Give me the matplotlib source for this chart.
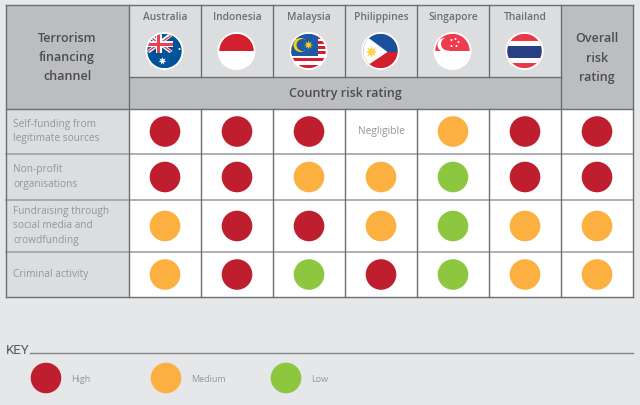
"""
Terrorism financing risk table, drawn in pixel coordinates on one axes
"""
import matplotlib
matplotlib.use('Agg')
import matplotlib.pyplot as plt
import numpy as np
from matplotlib.patches import Circle, Rectangle, Polygon

plt.rcParams['font.family'] = ['Open Sans', 'DejaVu Sans']

countries = ['Australia', 'Indonesia', 'Malaysia', 'Philippines', 'Singapore', 'Thailand']
channels = ['Self-funding from\nlegitimate sources', 'Non-profit\norganisations',
            'Fundraising through\nsocial media and\ncrowdfunding', 'Criminal activity']
self_funding = ['High', 'High', 'High', 'Negligible', 'Medium', 'High', 'High']
non_profit = ['High', 'High', 'Medium', 'Medium', 'Low', 'High', 'High']
fundraising = ['Medium', 'High', 'High', 'Medium', 'Low', 'Medium', 'Medium']
criminal = ['Medium', 'High', 'Low', 'High', 'Low', 'Medium', 'Medium']
levels = ['High', 'Medium', 'Low']

BG = '#e6e7e8'
LIGHT = '#dcddde'
DARK = '#bbbdbf'
LINE = '#6d6e71'
SOFT_LINE = '#a0a2a5'
colors = {'High': '#be1e2d', 'Medium': '#fbb040', 'Low': '#8dc63f'}

col_x = [6, 129, 201, 273, 345, 417, 489, 561, 633]
row_y = [109, 154, 200, 252, 297]
HEAD_TOP, HEAD_MID = 5, 77

fig = plt.figure(figsize=(6.4, 4.05), dpi=100, facecolor=BG)
ax = fig.add_axes([0, 0, 1, 1])
ax.set_xlim(0, 640)
ax.set_ylim(405, 0)
ax.axis('off')


def rect(x0, y0, x1, y1, color):
    ax.add_patch(Rectangle((x0, y0), x1 - x0, y1 - y0, fc=color, ec='none'))


def hline(x0, x1, y, color=LINE, lw=1.0):
    ax.plot([x0, x1], [y, y], color=color, lw=lw, zorder=2)


def vline(x, y0, y1):
    ax.plot([x, x], [y0, y1], color=LINE, lw=1.0, zorder=2)


def star_points(x, y, outer, inner, n):
    ang = np.linspace(-np.pi / 2, 1.5 * np.pi, 2 * n, endpoint=False)
    rad = np.where(np.arange(2 * n) % 2 == 0, outer, inner)
    return np.column_stack([x + rad * np.cos(ang), y + rad * np.sin(ang)])


def draw_flag(name, cx, cy):
    """Round flag with a white rim, everything clipped to the inner disc"""
    ax.add_patch(Circle((cx, cy), 19, fc='white', ec='none', zorder=3))
    r = 17.2
    parts = []

    def box(x0, y0, x1, y1, c):
        parts.append(Rectangle((cx + x0, cy + y0), x1 - x0, y1 - y0, fc=c, ec='none'))

    def poly(pts, c):
        parts.append(Polygon([(cx + a, cy + b) for a, b in pts], fc=c, ec='none'))

    def dot(a, b, rad, c):
        parts.append(Circle((cx + a, cy + b), rad, fc=c, ec='none'))

    if name == 'Australia':
        box(-r, -r, r, r, '#00529b')
        poly([(-18, -15), (-15, -18), (8, 0), (5, 2)], 'white')
        poly([(-18, 0), (5, -18), (8, -15), (-15, 2)], 'white')
        poly([(-17, -15), (-16, -16), (7, 0), (6, 1)], '#e8434f')
        poly([(-17, 0), (6, -16), (7, -15), (-16, 1)], '#e8434f')
        box(-18, -10, 8, -4, 'white')
        box(-9, -18, -3, 2, 'white')
        box(-18, -8.5, 8, -5.5, '#e8434f')
        box(-7.5, -18, -4.5, 2, '#e8434f')
        poly(star_points(-2, 10, 4, 1.8, 7), 'white')
        dot(15, -2, 1, 'white')
    elif name == 'Indonesia':
        box(-r, -r, r, 0, '#d2202f')
        box(-r, 0, r, r, 'white')
    elif name == 'Malaysia':
        box(-r, -r, r, r, 'white')
        for y in (-15, -10, -5, 0, 7, 14):
            box(-r, y, r, y + 2.6, '#d2202f')
        box(-r, -r, 9, 5, '#1c5aa6')
        dot(-8, -6, 7, '#fdd20e')
        dot(-6, -6, 6, '#1c5aa6')
        poly(star_points(0, -6, 4.5, 2, 8), '#fdd20e')
    elif name == 'Philippines':
        box(-r, -r, r, 1, '#1a4f9c')
        box(-r, 1, r, r, '#d2202f')
        poly([(-r - 3, -r - 2), (7, 1), (-r - 3, r + 2)], 'white')
        poly(star_points(-9, 1, 6, 3, 8), '#fdd54f')
    elif name == 'Singapore':
        box(-r, -r, r, 0, '#f03a4f')
        box(-r, 0, r, r, 'white')
        dot(-8, -6, 7, 'white')
        dot(-5, -7, 6.5, '#f03a4f')
        for a, b in [(-1, -11), (3, -12), (6, -9), (4, -5), (-1, -5)]:
            dot(a, b, 1, 'white')
    elif name == 'Thailand':
        box(-r, -r, r, r, '#e8384a')
        box(-r, -10.5, r, 11.5, 'white')
        box(-r, -5.5, r, 6.5, '#283f83')

    for part in parts:
        part.set_zorder(4)
        ax.add_patch(part)
        part.set_clip_path(Circle((cx, cy), r, transform=ax.transData))


# header fills
rect(col_x[0], HEAD_TOP, col_x[1], row_y[0], DARK)
rect(col_x[-2], HEAD_TOP, col_x[-1], row_y[0], DARK)
rect(col_x[1], HEAD_MID, col_x[-2], row_y[0], DARK)
for i, name in enumerate(countries):
    x0, x1 = col_x[i + 1], col_x[i + 2]
    rect(x0, HEAD_TOP, x1, HEAD_MID, LIGHT)
    ax.text((x0 + x1) / 2, 17.5, name, ha='center', va='center', fontsize=7.4,
            fontweight='semibold', color='#6d6e71')
    draw_flag(name, (x0 + x1) / 2 - 0.5, 51)

ax.text(67, 58, 'Terrorism\nfinancing\nchannel', ha='center', va='center', fontsize=9,
        fontweight='semibold', color='#4d4d4f', linespacing=1.6)
ax.text(597, 58, 'Overall\nrisk\nrating', ha='center', va='center', fontsize=9,
        fontweight='semibold', color='#4d4d4f', linespacing=1.6)
ax.text(345, 94, 'Country risk rating', ha='center', va='center', fontsize=9,
        fontweight='semibold', color='#4d4d4f')

# body
rows = [self_funding, non_profit, fundraising, criminal]
for r, (label, values) in enumerate(zip(channels, rows)):
    y0, y1 = row_y[r], row_y[r + 1]
    cy = (y0 + y1) / 2
    rect(col_x[0], y0, col_x[1], y1, LIGHT)
    ax.text(13, cy, label, ha='left', va='center', fontsize=7.3, color='#939598', linespacing=1.38)
    for c, value in enumerate(values):
        x0, x1 = col_x[c + 1], col_x[c + 2]
        rect(x0, y0, x1, y1, 'white')
        if value in colors:
            ax.add_patch(Circle(((x0 + x1) / 2, cy), 15.3, fc=colors[value], ec='none', zorder=3))
        else:
            ax.text((x0 + x1) / 2, cy, value, ha='center', va='center', fontsize=7.3, color='#939598')

# grid lines, the inner rows are softer and the risk band has no verticals
for y in row_y[1:-1]:
    hline(col_x[0], col_x[-1], y, SOFT_LINE, 1.2)
for y in (HEAD_TOP, row_y[0], row_y[-1]):
    hline(col_x[0], col_x[-1], y)
hline(col_x[1], col_x[-2], HEAD_MID)
for x in (col_x[0], col_x[1], col_x[-2], col_x[-1]):
    vline(x, HEAD_TOP, row_y[-1])
for x in col_x[2:-2]:
    vline(x, HEAD_TOP, HEAD_MID)
    vline(x, row_y[0], row_y[-1])

# key
ax.text(6, 350, 'KEY', ha='left', va='center', fontsize=9.5, color='#58595b',
        family=['Liberation Sans Narrow', 'Roboto'])
hline(30, 633, 353, '#808285')
for i, level in enumerate(levels):
    x = 46 + 120 * i
    ax.add_patch(Circle((x, 378), 15.3, fc=colors[level], ec='none'))
    ax.text(x + 25, 379, level, ha='left', va='center', fontsize=6.5, color='#939598')

fig.savefig('out.png', dpi=100, facecolor=BG)
